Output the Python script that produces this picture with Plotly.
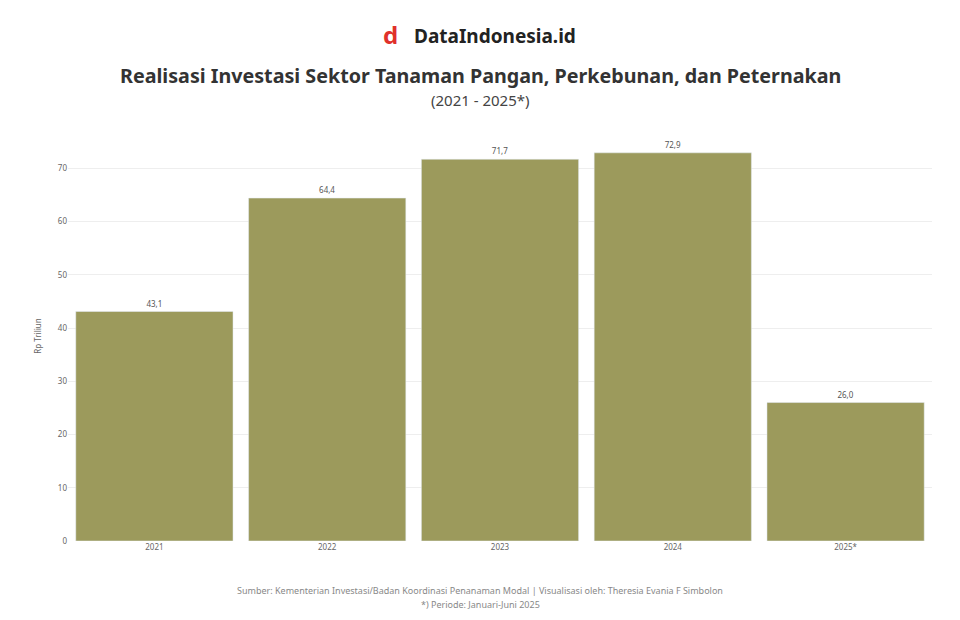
import plotly.graph_objects as go

years = ["2021", "2022", "2023", "2024", "2025*"]
values = [43.1, 64.4, 71.7, 72.9, 26.0]
labels = ["43,1", "64,4", "71,7", "72,9", "26,0"]

L, R, T, B = 60, 36, 123, 87
W, H = 960, 620
PW, PH = W - L - R, H - T - B
DX, DY = 8, 7  # page offset

fig = go.Figure(go.Bar(
    x=years, y=values, text=labels, textposition="outside",
    textfont=dict(size=8, color="#555"), marker_color="#9c9a5c",
    cliponaxis=False, hoverinfo="skip"))

fig.update_layout(
    width=W, height=H, plot_bgcolor="white", paper_bgcolor="white",
    font=dict(family="Source Sans Pro, Noto Sans, sans-serif", color="#333"),
    margin=dict(l=L, r=R, t=T, b=B),
    bargap=0.09, showlegend=False,
    xaxis=dict(tickfont=dict(size=8, color="#666"), showline=False, ticks=""),
    yaxis=dict(range=[0, 77], dtick=10, gridcolor="#eeeeee", zeroline=False,
               tickfont=dict(size=8, color="#666"),
               title=dict(text="Rp Triliun", font=dict(size=8, color="#666"))),
)

anns = [
    ("<b>d</b>", 390, 33, 24, "#e0312b"),
    ("<b>DataIndonesia.id</b>", 495, 35, 19, "#222"),
    ("<b>Realisasi Investasi Sektor Tanaman Pangan, Perkebunan, dan Peternakan</b>", 480, 74, 19.7, "#333"),
    ("(2021 - 2025*)", 480, 99, 15, "#444"),
    ("Sumber: Kementerian Investasi/Badan Koordinasi Penanaman Modal | Visualisasi oleh: Theresia Evania F Simbolon", 480, 589, 9, "#888"),
    ("*) Periode: Januari-Juni 2025", 480, 603, 9, "#888"),
]
for text, px, py, size, color in anns:
    fig.add_annotation(text=text, x=(px - DX - L) / PW, y=(H - B - (py - DY)) / PH,
                       xref="paper", yref="paper", showarrow=False,
                       font=dict(size=size, color=color),
                       xanchor="center", yanchor="middle")

fig.write_html("out.html")
